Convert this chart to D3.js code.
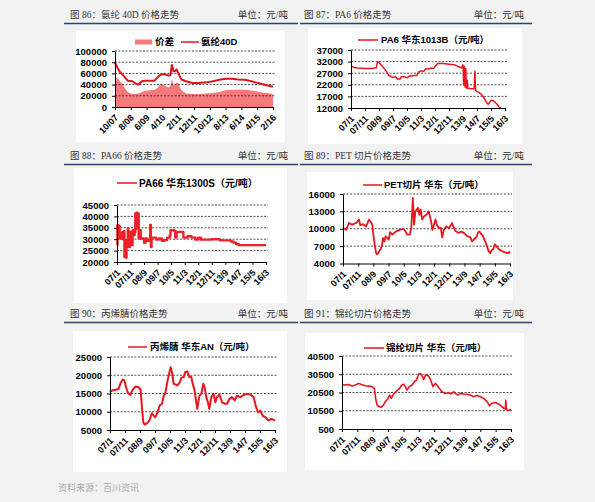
<!DOCTYPE html>
<html>
<head>
<meta charset="utf-8">
<script src="https://cdn.jsdelivr.net/npm/d3@7"></script>
<style>
body { margin: 0; background: #f2f2f2; }
svg { display: block; }
</style>
</head>
<body>
<svg id="drawing_region" width="595" height="502"></svg>
<script>
// tick labels (every 10 months)
const spandexTicks = ['10/07','8/08','6/09','4/10','2/11','12/11','10/12','8/13','6/14','4/15','2/16'];
const monthTicks = ['07/1','07/11','08/9','09/7','10/5','11/3','12/1','12/11','13/9','14/7','15/5','16/3'];

// 氨纶40D, months since 2007-10
const spandexMonths = [0,2,3,5,6,8,10,11,13,15,17,19,22,25,27,29,31,32,34,35,36,37,38,39,40,42,45,49,53,58,62,66,70,74,78,82,85,89,93,96,100];
const spandexPrice = [79000,68000,63000,57000,54000,47000,46500,46000,42000,40000,46000,47000,47000,47000,53000,58000,59000,58000,56000,57000,75000,64000,64000,67000,61000,49000,46000,43000,43000,44000,46000,48500,50500,50500,49000,48500,47000,44000,41000,39000,36000];
const spandexSpread = [54000,50000,46000,40000,35000,27000,24000,23000,23000,24000,27000,29000,30000,31000,34000,42000,39000,37000,35000,38000,50000,40000,39000,44000,42000,30000,24000,23000,23000,24000,25000,27000,30000,31000,31000,31000,30000,28000,26000,25000,23000];

// the other five series, months since 2007-01
const pa6Months = [0,2,5,10,15,18,19,20,22,25,27,30,32,33,35,36,38,40,42,45,47,48,50,52,53,55,57,59,60,62,66,70,74,77,79,80,80.5,81,81.5,82,82.5,83,83.5,86,88,88.5,89,91,93,95,97,98,100,102,104,106,107];
const pa6Price = [30200,29500,29200,29000,29000,29300,32000,31600,30200,28000,26000,25200,25500,24500,24500,25500,25500,25000,25800,26000,26000,27300,28000,27800,28800,28800,29200,29000,29900,31200,31200,30900,30600,29800,29300,30600,22000,30000,21000,29000,20500,24000,20500,20300,20300,27800,19500,18800,18000,16400,14200,13600,15300,15000,13800,12300,12000];

const pa66Months = [0,0.3,1,2,3,4,4.5,5,5.5,6.5,7,8,8.5,9.5,10.5,11.5,12.5,13,13.5,14.5,15,15.5,16,17,17.5,19,20,21,22,24,24.5,25,25.5,27,29,31,33,35,37,39,39.5,42,43,44,48,49,52,55,57,58,60,62,66,70,74,76,80,84,86,88,90,110];
const pa66Price = [27400,36200,35700,30300,32500,33200,30000,33500,22200,21900,29600,34700,26600,33200,27400,34000,31800,33200,41300,41600,34700,41300,30300,34000,30300,30300,28400,30300,29300,30300,36200,26600,30700,30700,29800,30300,29300,29600,30700,31800,34000,33700,30700,33200,33200,30700,31300,30700,30700,29800,30700,29800,29800,30000,30000,29500,29500,29000,28500,27800,27400,27400];

const petMonths = [0,2,4,6,8.8,10.5,11.4,13.2,15.2,17.1,18,19.3,20,20.9,21.8,22.6,24.6,25.5,26.4,27.3,28.1,30.1,31,32.5,34.7,37.4,39.6,41.3,42.2,44,45,46,46.8,47.7,49.5,50.3,51.2,52.1,53.2,54.9,56.5,58,58.9,60.9,61.8,63.3,64.4,65.3,66.4,68.1,69.9,71,71.9,72.7,74,76,78,80,82,84,85,86,88,89,90,91,92,94,96,97,98,99,100,101,103,105,107,109,110];
const petPrice = [10200,9800,11000,10700,11000,11600,10600,10800,10400,11600,11300,10700,9000,7200,5800,5600,6400,6900,8400,7800,8700,8100,9400,9000,9500,9800,10000,9500,9000,9000,10200,15300,10700,13000,13600,12400,13300,11600,12100,12400,13000,11300,9800,11600,10700,10100,10200,8500,9800,10400,10100,10600,11000,10400,9600,9300,9500,9200,8700,8500,7800,8100,8600,9400,9500,9100,8800,7600,6100,5800,6300,6500,7300,7000,6400,6100,5900,5800,6100];

const anMonths = [0,1.3,3.6,5.8,6.9,8.4,9.6,10.7,12,13.6,15.1,16.9,19.1,20.4,21.3,22.2,23.1,24.7,26.2,28,29.1,30.2,31.8,33.1,34.7,35.8,36.9,38,39.1,40.4,41.3,42.4,44.7,46.2,47.6,49.1,50.2,51.6,52.9,54.2,55.1,56.4,57.3,58.2,59.6,60.9,62.2,63.1,64.2,65.3,66.2,67.6,69.1,70.2,71.3,72.9,74.7,76.4,78,79.6,81.3,83.1,84.7,86.9,89.1,91.3,93.6,95.8,97.3,98.7,100.2,101.8,103.6,105.8,107.3,109.1,110];
const anPrice = [15400,15800,16000,16300,17700,18800,18600,16700,15100,14600,16000,16900,16700,16000,11200,7100,6500,6800,7600,9600,8900,8500,9900,11700,12200,14400,15100,17700,19900,22200,20900,17700,17200,17800,19300,19500,20900,21000,19500,19500,17700,15800,13100,10800,14400,14900,17700,16700,14000,12600,10800,14000,14900,12600,14000,14700,12600,12200,12200,13500,14000,13100,14400,14000,14600,14900,14700,14000,11400,9800,10300,8900,8500,7600,8000,7800,7600];

const chipMonths = [0,2.2,4.3,6.5,8.7,10.8,13,15.2,17.4,19.5,21,22.1,22.8,23.9,25.4,27.1,28.2,29.7,31,32.1,33.6,35.8,37.5,39,40.1,41.2,42.3,43.8,45.6,47.1,48.4,49.9,51,52.3,53.1,54.4,55.7,57,58.1,59.2,60.7,61.8,63.3,65.1,67.2,69.4,70.9,72.7,73.8,75.3,77,79.2,81.3,83.5,85.7,87.9,90,92.2,94.4,96.1,97.6,99.8,101.9,104.1,105.2,106.3,106.6,107,107.4,108.5,110];
const chipPrice = [24900,24600,24900,24000,24600,25500,24700,24200,24000,23700,22800,16400,13700,12800,12400,13700,15500,16800,19100,17300,19700,21500,22800,24600,25100,23700,21800,23700,24600,26400,27300,30500,30900,29400,27600,30000,30000,28700,26400,23700,25500,24600,22800,20900,20000,20400,19700,20900,20000,19100,20000,19700,19500,19100,18200,18800,18200,17300,15500,13200,14600,15000,14200,12800,11900,11400,16400,11400,11000,10600,11400];

const spandexYTicks = [0,20000,40000,60000,80000,100000];
const pa6YTicks = [12000,17000,22000,27000,32000,37000];
const pa66YTicks = [20000,25000,30000,35000,40000,45000];
const petYTicks = [4000,7000,10000,13000,16000];
const anYTicks = [5000,10000,15000,20000,25000];
const chipYTicks = [500,10500,20500,30500,40500];

const RED = '#e8161e';
const PINK = '#f47a7b';
const SERIF = '"Liberation Serif", "Noto Sans CJK SC", serif';
const SANS = '"Liberation Sans", Arial, "Noto Sans CJK SC", sans-serif';

const svg = d3.select('#drawing_region');

function header(x0, x1, y, tx, ux, title) {
    svg.append('text').attr('x', tx).attr('y', y)
        .attr('font-family', SERIF).attr('font-size', 9.5).attr('fill', '#333')
        .text(title);
    svg.append('text').attr('x', ux).attr('y', y).attr('text-anchor', 'end')
        .attr('font-family', SERIF).attr('font-size', 9.5).attr('fill', '#333')
        .text('单位：元/吨');
    svg.append('line').attr('x1', x0).attr('x2', x1).attr('y1', y + 5.5).attr('y2', y + 5.5)
        .attr('stroke', '#2a4470').attr('stroke-width', 1.4);
}

function drawPanel(c) {
    const g = svg.append('g');
    g.append('rect')
        .attr('x', c.box[0]).attr('y', c.box[1])
        .attr('width', c.box[2] - c.box[0]).attr('height', c.box[3] - c.box[1])
        .attr('fill', '#fff');

    const x = d3.scaleLinear().domain([0, c.xMax]).range([c.plot.left, c.plot.right]);
    const y = d3.scaleLinear().domain([c.yTicks[0], c.yTicks[c.yTicks.length - 1]])
        .range([c.plot.bottom, c.plot.top]);

    if (c.area) {
        const area = d3.area()
            .x((d, i) => x(c.months[i]))
            .y0(y(c.yTicks[0]))
            .y1(d => y(d));
        g.append('path').datum(c.area).attr('d', area).attr('fill', PINK);
    }

    // dashed grid
    g.append('g').selectAll('line')
        .data(c.yTicks.slice(1))
        .join('line')
        .attr('x1', c.plot.left).attr('x2', c.plot.right + 2)
        .attr('y1', d => y(d)).attr('y2', d => y(d))
        .attr('stroke', '#222').attr('stroke-width', 0.8)
        .attr('stroke-dasharray', '2,1.5');

    const line = d3.line()
        .x((d, i) => x(c.months[i]))
        .y(d => y(d))
        .curve(c.step ? d3.curveStepAfter : d3.curveLinear);
    g.append('path').datum(c.values).attr('d', line)
        .attr('fill', 'none').attr('stroke', c.color || RED)
        .attr('stroke-width', c.width).attr('stroke-linejoin', 'round');

    // axes
    const xAxis = d3.axisBottom(x)
        .tickValues(c.xLabels.map((d, i) => i * 10))
        .tickFormat((d, i) => c.xLabels[i])
        .tickSize(3).tickSizeOuter(0);
    const xg = g.append('g').attr('transform', `translate(0,${c.plot.bottom})`).call(xAxis);
    xg.attr('font-family', SANS).attr('font-size', 9).attr('font-weight', 'bold');
    xg.selectAll('text')
        .attr('x', 0).attr('y', 0).attr('dy', '0.35em')
        .attr('transform', 'translate(1,9) rotate(-45)')
        .style('text-anchor', 'end').attr('fill', '#000');

    const yAxis = d3.axisLeft(y).tickValues(c.yTicks).tickFormat(d3.format('d'))
        .tickSize(3).tickPadding(5).tickSizeOuter(0);
    const yg = g.append('g').attr('transform', `translate(${c.plot.left},0)`).call(yAxis);
    yg.attr('font-family', SANS).attr('font-size', 9.5).attr('font-weight', 'bold');
    yg.selectAll('text').attr('fill', '#000');

    // legend
    const L = c.legend;
    L.items.forEach(it => {
        if (it.type === 'rect') {
            g.append('rect').attr('x', it.x).attr('y', L.y - 2.5).attr('width', 17).attr('height', 5).attr('fill', PINK);
        } else {
            g.append('line').attr('x1', it.x).attr('x2', it.x + it.len).attr('y1', L.y).attr('y2', L.y)
                .attr('stroke', RED).attr('stroke-width', 1.5);
        }
        g.append('text').attr('x', it.tx).attr('y', L.y).attr('dy', '0.35em')
            .attr('font-family', SANS).attr('font-weight', 'bold').attr('font-size', L.size || 9.5)
            .text(it.label);
    });
}

header(64, 298, 18, 70, 288, '图 86：氨纶 40D 价格走势');
header(300, 532, 18, 304, 524, '图 87：PA6 价格走势');
header(64, 298, 159, 70, 288, '图 88：PA66 价格走势');
header(300, 532, 159, 304, 524, '图 89：PET 切片价格走势');
header(64, 298, 317, 70, 288, '图 90：丙烯腈价格走势');
header(300, 532, 317, 304, 524, '图 91：锦纶切片价格走势');

drawPanel({
    box: [76, 31, 285, 142], plot: {left: 115, right: 273, top: 51, bottom: 107},
    xMax: 100, xLabels: spandexTicks, yTicks: spandexYTicks,
    months: spandexMonths, values: spandexPrice, area: spandexSpread, width: 2, color: '#dc141c',
    legend: {y: 42, items: [
        {type: 'rect', x: 135, tx: 155, label: '价差'},
        {type: 'line', x: 181, len: 18, tx: 201, label: '氨纶40D'}]}
});
drawPanel({
    box: [308, 28, 522, 144], plot: {left: 351, right: 505, top: 50, bottom: 108},
    xMax: 110, xLabels: monthTicks, yTicks: pa6YTicks,
    months: pa6Months, values: pa6Price, width: 1.5,
    legend: {y: 40, items: [{type: 'line', x: 358, len: 20, tx: 381, label: 'PA6 华东1013B（元/吨）'}]}
});
drawPanel({
    box: [74, 168, 287, 303], plot: {left: 117, right: 266, top: 205, bottom: 262},
    xMax: 110, xLabels: monthTicks, yTicks: pa66YTicks,
    months: pa66Months, values: pa66Price, width: 2.4, step: true, color: '#ef2028',
    legend: {y: 183, size: 10, items: [{type: 'line', x: 117, len: 20, tx: 139, label: 'PA66 华东1300S（元/吨）'}]}
});
drawPanel({
    box: [307, 172, 513, 300], plot: {left: 343, right: 510, top: 194, bottom: 263.5},
    xMax: 110, xLabels: monthTicks, yTicks: petYTicks,
    months: petMonths, values: petPrice, width: 1.8,
    legend: {y: 185, items: [{type: 'line', x: 363, len: 19, tx: 384, label: 'PET切片 华东（元/吨）'}]}
});
drawPanel({
    box: [73, 331, 287, 472], plot: {left: 110, right: 275, top: 357, bottom: 430},
    xMax: 110, xLabels: monthTicks, yTicks: anYTicks,
    months: anMonths, values: anPrice, width: 2,
    legend: {y: 347, items: [{type: 'line', x: 128, len: 19, tx: 150, label: '丙烯腈 华东AN（元/吨）'}]}
});
drawPanel({
    box: [305, 333, 524, 470], plot: {left: 342, right: 511, top: 356, bottom: 429},
    xMax: 110, xLabels: monthTicks, yTicks: chipYTicks,
    months: chipMonths, values: chipPrice, width: 1.6,
    legend: {y: 348, items: [{type: 'line', x: 364, len: 20, tx: 386, label: '锦纶切片 华东（元/吨）'}]}
});

svg.append('text').attr('x', 58).attr('y', 491)
    .attr('font-family', SERIF).attr('font-size', 9).attr('fill', '#aaa')
    .text('资料来源：百川资讯');
</script>
</body>
</html>
